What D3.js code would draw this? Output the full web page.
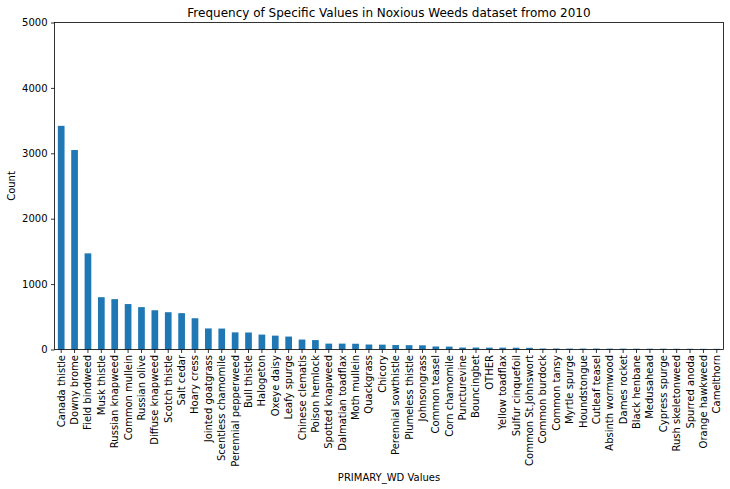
<!DOCTYPE html>
<html>
<head>
<meta charset="utf-8">
<script src="https://cdn.jsdelivr.net/npm/d3@7"></script>
<style>
  body { margin: 0; background: #fff; }
  text { font-family: "DejaVu Sans", sans-serif; fill: #000; }
  .axis path, .axis line { stroke: #000; stroke-width: 0.8; }
  .axis text { font-size: 10px; }
</style>
</head>
<body>
<div id="chart-area"></div>
<script>
const margin = {top: 22.5, right: 6.5, bottom: 139.5, left: 54.5};
const width = 730 - margin.left - margin.right;
const height = 489 - margin.top - margin.bottom;

const weeds = ["Canada thistle","Downy brome","Field bindweed","Musk thistle","Russian knapweed",
  "Common mullein","Russian olive","Diffuse knapweed","Scotch thistle","Salt cedar","Hoary cress",
  "Jointed goatgrass","Scentless chamomile","Perennial pepperweed","Bull thistle","Halogeton",
  "Oxeye daisy","Leafy spurge","Chinese clematis","Poison hemlock","Spotted knapweed",
  "Dalmatian toadflax","Moth mullein","Quackgrass","Chicory","Perennial sowthistle",
  "Plumeless thistle","Johnsongrass","Common teasel","Corn chamomile","Puncturevine",
  "Bouncingbet","OTHER","Yellow toadflax","Sulfur cinquefoil","Common St.Johnswort",
  "Common burdock","Common tansy","Myrtle spurge","Houndstongue","Cutleaf teasel",
  "Absinth wormwood","Dames rocket","Black henbane","Medusahead","Cypress spurge",
  "Rush skeletonweed","Spurred anoda","Orange hawkweed","Camelthorn"];

const counts = [3420,3050,1470,800,770,695,648,600,570,556,478,
  322,320,262,260,228,212,198,152,144,90,90,
  88,76,74,68,66,64,46,44,30,
  30,28,28,27,26,15,15,14,14,14,
  13,13,12,12,12,11,11,10,10];

const yTicks = [0,1000,2000,3000,4000,5000];

const svg = d3.select("#chart-area").append("svg")
    .attr("width", 730)
    .attr("height", 489);

const g = svg.append("g")
    .attr("transform", "translate(" + margin.left + "," + margin.top + ")");

const x = d3.scaleBand()
    .domain(weeds)
    .range([0, width])
    .paddingInner(0.5)
    .paddingOuter(0.25);

const y = d3.scaleLinear()
    .domain([0, 5000])
    .range([height, 0]);

// bars
g.selectAll("rect.bar")
    .data(weeds)
    .enter()
    .append("rect")
    .attr("class", "bar")
    .attr("x", d => x(d))
    .attr("width", x.bandwidth())
    .attr("y", (d, i) => y(counts[i]))
    .attr("height", (d, i) => height - y(counts[i]))
    .attr("fill", "#1f77b4");

// axes
const xAxis = g.append("g")
    .attr("class", "axis")
    .attr("transform", "translate(0," + height + ")")
    .call(d3.axisBottom(x).tickSizeOuter(0).tickSize(3.5).tickPadding(2));

xAxis.selectAll("text")
    .attr("transform", "rotate(-90)")
    .attr("text-anchor", "end")
    .attr("x", -5.5)
    .attr("y", 0)
    .attr("dy", "0.35em");

g.append("g")
    .attr("class", "axis")
    .call(d3.axisLeft(y).tickValues(yTicks).tickFormat(d3.format("d"))
      .tickSizeOuter(0).tickSize(3.5).tickPadding(3.5));

g.selectAll(".axis .domain").remove();

// frame
g.append("rect")
    .attr("width", width)
    .attr("height", height)
    .attr("fill", "none")
    .attr("stroke", "#000")
    .attr("stroke-width", 0.8);

// labels
svg.append("text")
    .attr("x", margin.left + width / 2)
    .attr("y", 17)
    .attr("text-anchor", "middle")
    .style("font-size", "12px")
    .text("Frequency of Specific Values in Noxious Weeds dataset fromo 2010");

svg.append("text")
    .attr("x", margin.left + width / 2)
    .attr("y", 481)
    .attr("text-anchor", "middle")
    .style("font-size", "10px")
    .text("PRIMARY_WD Values");

svg.append("text")
    .attr("transform", "translate(15," + (margin.top + height / 2) + ") rotate(-90)")
    .attr("text-anchor", "middle")
    .style("font-size", "10px")
    .text("Count");
</script>
</body>
</html>
